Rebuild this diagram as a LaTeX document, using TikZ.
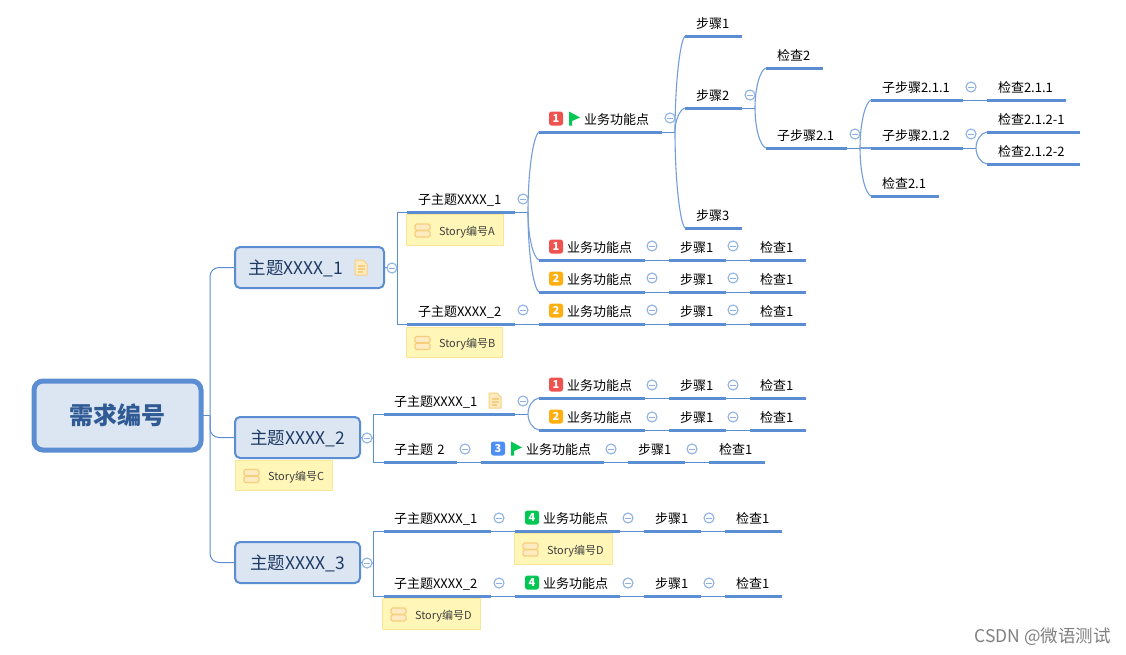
\documentclass[tikz,border=0pt]{standalone}
\usepackage{fontspec}
\setmainfont{Noto Sans CJK SC}
\usetikzlibrary{calc}
\definecolor{lineblue}{HTML}{5B8DD3}
\definecolor{circblue}{HTML}{8FB2E3}
\definecolor{boxfill}{HTML}{DCE6F3}
\definecolor{rootink}{HTML}{2F5A94}
\definecolor{topink}{HTML}{1F3A63}
\definecolor{notefill}{HTML}{FFF6B8}
\definecolor{noteline}{HTML}{FBE596}
\definecolor{iconline}{HTML}{F6CF7E}
\definecolor{iconfill}{HTML}{FFEBC2}
\definecolor{bred}{HTML}{EE5350}
\definecolor{borange}{HTML}{FFB010}
\definecolor{bblue}{HTML}{4C8DF6}
\definecolor{bgreen}{HTML}{00C853}
\tikzset{
  x=1pt,y=-1pt,
  tp/.style={anchor=south west,inner sep=0pt,outer sep=0pt,minimum height=25pt,text height=10pt,text depth=1pt,font=\fontsize{13}{15}\selectfont,text=black},
  ul/.style={draw=lineblue,line width=3pt},
  thinl/.style={draw=lineblue,line width=1pt},
  curvel/.style={draw=lineblue!85,line width=1.1pt},
  collapse/.style={circle,draw=circblue,fill=white,line width=1.1pt,minimum size=10pt,inner sep=0pt,outer sep=0pt,
    path picture={\draw[circblue,line width=1pt] ([xshift=-3pt]path picture bounding box.center) -- ([xshift=3pt]path picture bounding box.center);}},
  badge/.style={rounded corners=2.5pt,minimum width=14pt,minimum height=14pt,inner sep=0pt,outer sep=0pt,text=white,font=\fontsize{11}{11}\selectfont\bfseries},
  topbox/.style={draw=lineblue,fill=boxfill,line width=2pt,rounded corners=5pt,anchor=north west,inner sep=0pt,outer sep=0pt,text=topink,text height=14pt,text depth=0pt,font=\fontsize{17.5}{20}\selectfont},
  rootbox/.style={draw=lineblue,fill=boxfill,line width=5pt,rounded corners=9pt,inner sep=0pt,outer sep=0pt,text=rootink,font=\fontsize{24}{28}\selectfont\bfseries},
  notebox/.style={draw=noteline,fill=notefill,line width=1pt,anchor=north west,inner sep=0pt,outer sep=0pt,text=black!75,font=\fontsize{11}{13}\selectfont,text height=11pt,text depth=0pt},
  iconbar/.style={draw=iconline,fill=iconfill,line width=1.2pt,rounded corners=1.5pt}
}
% name, x1, x2, yline, text offset, text
\newcommand{\tpc}[6]{%
  \node[tp,minimum width={#3-#2},text width={#3-#2}] (#1) at (#2,#4) {\hspace*{#5pt}\mbox{#6}};
  \draw[ul] (#1.south west) -- (#1.south east);
}
% name, x1, x2, y1, y2, text
\newcommand{\nte}[6]{%
  \node[notebox,minimum width={#3-#2},minimum height={#5-#4},text width={#3-#2}] (#1) at (#2,#4) {\hspace*{33pt}\mbox{#6}};
  \begin{scope}[shift={(#1.west)}]
    \path[iconbar] (9,-5.5) rectangle (24,0.7);
    \path[iconbar] (9,1.3) rectangle (24,7.5);
  \end{scope}
}
\newcommand{\flg}[2]{%
  \fill[bgreen] (#1,#2-6.5) -- (#1+11,#2-0.5) -- (#1+3,#2+3) -- (#1+3,#2+7.5) -- (#1,#2+7.5) -- cycle;
}
\newcommand{\dcc}[2]{%
  \draw[iconline,fill=iconfill,line width=1pt,line join=round] (#1,#2) -- (#1+8,#2) -- (#1+12,#2+4) -- (#1+12,#2+15) -- (#1,#2+15) -- cycle;
  \draw[iconline,line width=1.1pt] (#1+2.5,#2+6) -- (#1+9.5,#2+6) (#1+2.5,#2+9) -- (#1+9.5,#2+9) (#1+2.5,#2+12) -- (#1+7.5,#2+12);
}
\newcommand{\crv}[2]{%
  \draw[curvel] (#1) .. controls ($(#1)!0.5!(#1|-#2.south west)$) and ($(#1)!0.95!(#1|-#2.south west)+(5,0)$) .. (#2.south west);
}
\begin{document}
\begin{tikzpicture}
\useasboundingbox (0,0) rectangle (1126,654);
\fill[white] (0,0) rectangle (1126,654);

% central and main topics
\node[rootbox,minimum width=167pt,minimum height=69pt] (root) at (117.5,415.5) {需求编号};
\node[topbox,minimum width=149pt,minimum height=41pt] (m1) at (235,247) {\hspace*{-27pt}主题XXXX\_1};
\node[topbox,minimum width=125pt,minimum height=41pt] (m2) at (235,417) {主题XXXX\_2};
\node[topbox,minimum width=125pt,minimum height=41pt] (m3) at (235,542) {主题XXXX\_3};
\dcc{355}{260}

\coordinate (j0) at (210,415.5);
\draw[thinl] (root.east) -- (j0);
\draw[thinl,rounded corners=9pt] (j0) |- (m1.west);
\draw[thinl,rounded corners=9pt] (j0) |- (m3.west);
\draw[thinl,rounded corners=9pt] (j0) |- (m2.west);

% branch of topic 1
\tpc{a}{407}{515}{212}{11}{子主题XXXX\_1}
\tpc{b}{407}{515}{324}{11}{子主题XXXX\_2}
\coordinate (j1) at (397,268);
\draw[thinl] (m1.east) -- (j1);
\draw[thinl] (j1) |- (a.south west);
\draw[thinl] (j1) |- (b.south west);

\tpc{a1}{539}{662}{132}{45}{业务功能点}
\tpc{a2}{539}{645}{260}{28}{业务功能点}
\tpc{a3}{539}{645}{292}{28}{业务功能点}
\coordinate (j2) at (528,212);
\draw[thinl] (a.south east) -- (j2);
\crv{j2}{a1}\crv{j2}{a2}\crv{j2}{a3}

\tpc{s1}{685}{742}{36}{11}{步骤1}
\tpc{s2}{685}{742}{108}{11}{步骤2}
\tpc{s3}{685}{742}{228}{11}{步骤3}
\coordinate (j3) at (675,132);
\draw[thinl] (a1.south east) -- (j3);
\crv{j3}{s1}\crv{j3}{s2}\crv{j3}{s3}

\tpc{c2}{766}{823}{68}{11}{检查2}
\tpc{z}{766}{847}{148}{11}{子步骤2.1}
\coordinate (j4) at (755,108);
\draw[thinl] (s2.south east) -- (j4);
\crv{j4}{c2}\crv{j4}{z}

\tpc{z1}{871}{963}{100}{11}{子步骤2.1.1}
\tpc{z2}{871}{963}{148}{11}{子步骤2.1.2}
\tpc{z3}{871}{939}{196}{11}{检查2.1}
\coordinate (j5) at (860,148);
\draw[thinl] (z.south east) -- (j5);
\crv{j5}{z1}\crv{j5}{z3}
\draw[curvel] (j5) -- (z2.south west);

\tpc{k1}{987}{1066}{100}{11}{检查2.1.1}
\tpc{k2}{987}{1080}{132}{11}{检查2.1.2-1}
\tpc{k3}{987}{1080}{164}{11}{检查2.1.2-2}
\draw[thinl] (z1.south east) -- (k1.south west);
\coordinate (j6) at (976,148);
\draw[thinl] (z2.south east) -- (j6);
\crv{j6}{k2}\crv{j6}{k3}

% rows under topic 1
\tpc{p1}{669}{726}{260}{11}{步骤1}
\tpc{q1}{750}{806}{260}{10}{检查1}
\tpc{p2}{669}{726}{292}{11}{步骤1}
\tpc{q2}{750}{806}{292}{10}{检查1}
\tpc{b1}{539}{645}{324}{28}{业务功能点}
\tpc{p3}{669}{726}{324}{11}{步骤1}
\tpc{q3}{750}{806}{324}{10}{检查1}
\draw[thinl] (a2.south east) -- (p1.south west);
\draw[thinl] (p1.south east) -- (q1.south west);
\draw[thinl] (a3.south east) -- (p2.south west);
\draw[thinl] (p2.south east) -- (q2.south west);
\draw[thinl] (b.south east) -- (b1.south west);
\draw[thinl] (b1.south east) -- (p3.south west);
\draw[thinl] (p3.south east) -- (q3.south west);

% branch of topic 2
\tpc{d}{384}{515}{414}{10}{子主题XXXX\_1}
\tpc{e}{384}{457}{462}{10}{子主题 2}
\coordinate (j7) at (373,438);
\draw[thinl] (m2.east) -- (j7);
\draw[thinl] (j7) |- (d.south west);
\draw[thinl] (j7) |- (e.south west);
\dcc{489}{393}

\tpc{d1}{539}{645}{398}{28}{业务功能点}
\tpc{d2}{539}{645}{430}{28}{业务功能点}
\coordinate (j8) at (528,414);
\draw[thinl] (d.south east) -- (j8);
\crv{j8}{d1}\crv{j8}{d2}
\tpc{dp1}{669}{726}{398}{11}{步骤1}
\tpc{dq1}{750}{806}{398}{10}{检查1}
\tpc{dp2}{669}{726}{430}{11}{步骤1}
\tpc{dq2}{750}{806}{430}{10}{检查1}
\draw[thinl] (d1.south east) -- (dp1.south west);
\draw[thinl] (dp1.south east) -- (dq1.south west);
\draw[thinl] (d2.south east) -- (dp2.south west);
\draw[thinl] (dp2.south east) -- (dq2.south west);

\tpc{e1}{481}{604}{462}{45}{业务功能点}
\tpc{ep}{628}{685}{462}{10}{步骤1}
\tpc{eq}{709}{765}{462}{10}{检查1}
\draw[thinl] (e.south east) -- (e1.south west);
\draw[thinl] (e1.south east) -- (ep.south west);
\draw[thinl] (ep.south east) -- (eq.south west);

% branch of topic 3
\tpc{f}{384}{491}{531}{10}{子主题XXXX\_1}
\tpc{g}{384}{491}{596}{10}{子主题XXXX\_2}
\coordinate (j9) at (373,563);
\draw[thinl] (m3.east) -- (j9);
\draw[thinl] (j9) |- (f.south west);
\draw[thinl] (j9) |- (g.south west);
\tpc{f1}{515}{620}{531}{28}{业务功能点}
\tpc{fp}{644}{701}{531}{11}{步骤1}
\tpc{fq}{725}{782}{531}{11}{检查1}
\tpc{g1}{515}{620}{596}{28}{业务功能点}
\tpc{gp}{644}{701}{596}{11}{步骤1}
\tpc{gq}{725}{782}{596}{11}{检查1}
\draw[thinl] (f.south east) -- (f1.south west);
\draw[thinl] (f1.south east) -- (fp.south west);
\draw[thinl] (fp.south east) -- (fq.south west);
\draw[thinl] (g.south east) -- (g1.south west);
\draw[thinl] (g1.south east) -- (gp.south west);
\draw[thinl] (gp.south east) -- (gq.south west);

% notes
\nte{na}{406}{503}{214}{245}{Story编号A}
\nte{nb}{406}{502}{327}{357}{Story编号B}
\nte{nc}{235}{332}{460}{490}{Story编号C}
\nte{nd}{514}{612}{533}{564}{Story编号D}
\nte{ne}{382}{480}{598}{629}{Story编号D}

% badges and flags
\node[badge,fill=bred] (ba1) at (556,118.5) {1};
\flg{569}{118}
\node[badge,fill=bred] (ba2) at (556,246.5) {1};
\node[badge,fill=borange] (ba3) at (556,278.5) {2};
\node[badge,fill=borange] (ba4) at (556,310.5) {2};
\node[badge,fill=bred] (ba5) at (556,384.5) {1};
\node[badge,fill=borange] (ba6) at (556,416.5) {2};
\node[badge,fill=bblue] (ba7) at (498,448.5) {3};
\flg{511}{448}
\node[badge,fill=bgreen] (ba8) at (532,517.5) {4};
\node[badge,fill=bgreen] (ba9) at (532,582.5) {4};

% collapse marks
\node[collapse] (o1) at (392,268) {};
\node[collapse] (o2) at (523,199) {};
\node[collapse] (o3) at (670,118) {};
\node[collapse] (o4) at (750,95) {};
\node[collapse] (o5) at (855,134) {};
\node[collapse] (o6) at (971,87) {};
\node[collapse] (o7) at (971,134) {};
\node[collapse] (o8) at (652,246) {};
\node[collapse] (o9) at (733,246) {};
\node[collapse] (o10) at (652,278) {};
\node[collapse] (o11) at (733,278) {};
\node[collapse] (o12) at (523,310) {};
\node[collapse] (o13) at (652,310) {};
\node[collapse] (o14) at (733,310) {};
\node[collapse] (o15) at (367,438) {};
\node[collapse] (o16) at (523,401) {};
\node[collapse] (o17) at (652,385) {};
\node[collapse] (o18) at (733,385) {};
\node[collapse] (o19) at (652,417) {};
\node[collapse] (o20) at (733,417) {};
\node[collapse] (o21) at (465,449) {};
\node[collapse] (o22) at (611,449) {};
\node[collapse] (o23) at (692,449) {};
\node[collapse] (o24) at (367,563) {};
\node[collapse] (o25) at (499,518) {};
\node[collapse] (o26) at (628,518) {};
\node[collapse] (o27) at (709,518) {};
\node[collapse] (o28) at (499,583) {};
\node[collapse] (o29) at (628,583) {};
\node[collapse] (o30) at (709,583) {};

% watermark
\node[anchor=east,inner sep=0pt,text=black!50,font=\fontsize{17.5}{19}\selectfont] (wm) at (1111,636.5) {CSDN @微语测试};
\end{tikzpicture}
\end{document}
